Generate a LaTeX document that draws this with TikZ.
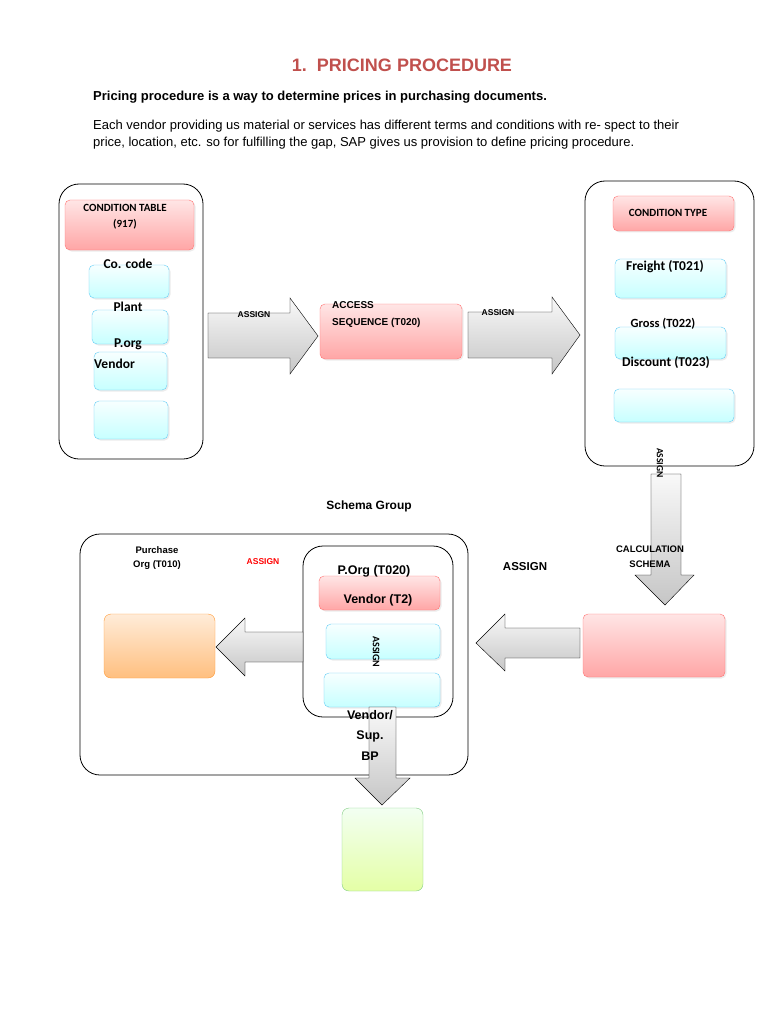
\documentclass[tikz,border=0pt]{standalone}
\usepackage{fontspec}
\setmainfont{Liberation Sans}
\newfontfamily\lbl{Carlito}
\usetikzlibrary{shadows}
\definecolor{titlered}{RGB}{192,80,77}
\begin{document}
\begin{tikzpicture}[x=1pt,y=-1pt]
    \tikzset{
      panel/.style={draw, thick, rounded corners=20pt, fill=white},
      pinkbox/.style={draw=red!55, rectangle, rounded corners=5pt, top color=red!10, bottom color=red!35, drop shadow={opacity=.15,shadow xshift=1.5pt,shadow yshift=-1.5pt}},
      bluebox/.style={draw=cyan!60, rectangle, rounded corners=5pt, top color=cyan!3, bottom color=cyan!22, drop shadow={opacity=.15,shadow xshift=1.5pt,shadow yshift=-1.5pt}},
      orangebox/.style={draw=orange!80, rectangle, rounded corners=7pt, top color=orange!15, bottom color=orange!50},
      greenbox/.style={draw=green!60!black!50, rectangle, rounded corners=7pt, top color=green!5, bottom color=green!30!yellow!35},
      blockarrow/.style={draw, thin, top color=gray!5, bottom color=gray!45},
      lab/.style={font=\lbl\bfseries\fontsize{13.5}{15}\selectfont, inner sep=0pt},
      small/.style={font=\bfseries\fontsize{9.5}{11}\selectfont, inner sep=0pt, align=center}
    }
    \useasboundingbox (0,0) rectangle (768,1024);
    % heading and text
    \node[font=\bfseries\fontsize{18}{20}\selectfont, text=titlered] (title) at (402,65) {1.\ \ PRICING PROCEDURE};
    \node[anchor=west, font=\bfseries\fontsize{13}{15}\selectfont, inner sep=0pt] (intro) at (93,97) {Pricing procedure is a way to determine prices in purchasing documents.};
    \node[anchor=north west, align=left, font=\fontsize{13}{16.5}\selectfont, inner sep=0pt] (para) at (93,120) {Each vendor providing us material or services has different terms and conditions with re- spect to their\\price, location, etc. so for fulfilling the gap, SAP gives us provision to define pricing procedure.};

    % condition table panel
    \node[panel, minimum width=144, minimum height=275] (tabpanel) at (131,321.5) {};
    \node[pinkbox, minimum width=129, minimum height=50] (condtab) at (129.5,225) {};
    \node[bluebox, minimum width=80, minimum height=33] (tab1) at (129,281.5) {};
    \node[bluebox, minimum width=76, minimum height=34] (tab2) at (130,327) {};
    \node[bluebox, minimum width=73, minimum height=38] (tab3) at (130.5,371) {};
    \node[bluebox, minimum width=74, minimum height=38] (tab4) at (131,420) {};
    \node[lab, align=center, font=\lbl\bfseries\fontsize{11}{16}\selectfont] (condtabtxt) at (125,217) {CONDITION TABLE\\(917)};
    \node[lab] (cocode) at (128,264) {Co. code};
    \node[lab] (plant) at (128,307) {Plant};
    \node[lab] (porg) at (128,344) {P.org};
    \node[lab, anchor=west] (vendor) at (94,364) {Vendor};

    % access sequence
    \draw[blockarrow] (208,313) -- (290,313) -- (290,298) -- (318,336) -- (290,374) -- (290,358) -- (208,358) -- cycle;
    \node[small, font=\bfseries\fontsize{8.5}{9}\selectfont] (assign1) at (254,315) {ASSIGN};
    \node[pinkbox, minimum width=142, minimum height=55] (access) at (391,331.5) {};
    \node[small, align=left, anchor=north west, font=\bfseries\fontsize{10}{17}\selectfont] (accesstxt) at (332,301) {ACCESS\\SEQUENCE (T020)};
    \draw[blockarrow] (468,312) -- (552,312) -- (552,297) -- (580,335) -- (552,374) -- (552,358) -- (468,358) -- cycle;
    \node[small, font=\bfseries\fontsize{8.5}{9}\selectfont] (assign2) at (498,313) {ASSIGN};

    % condition type panel
    \node[panel, minimum width=169, minimum height=285] (typepanel) at (669.5,323.5) {};
    \node[pinkbox, minimum width=121, minimum height=35] (condtype) at (673.5,213.5) {};
    \node[bluebox, minimum width=111, minimum height=39] (freight) at (670.5,278.5) {};
    \node[bluebox, minimum width=111, minimum height=32] (gross) at (670.5,343) {};
    \node[bluebox, minimum width=120, minimum height=33] (discount) at (674,405.5) {};
    \node[lab, font=\lbl\bfseries\fontsize{11}{12}\selectfont] (condtypetxt) at (668,213) {CONDITION TYPE};
    \node[lab] (freighttxt) at (665,267) {Freight (T021)};
    \node[lab, font=\lbl\bfseries\fontsize{12.5}{14}\selectfont] (grosstxt) at (663,324) {Gross (T022)};
    \node[lab] (discounttxt) at (666,363) {Discount (T023)};

    % calculation schema
    \draw[blockarrow] (651,474) -- (681,474) -- (681,575) -- (694,575) -- (665,605) -- (635,575) -- (651,575) -- cycle;
    \node[small, rotate=-90, font=\lbl\bfseries\fontsize{9.5}{10}\selectfont] (assign3) at (660,463) {ASSIGN};
    \node[small, font=\bfseries\fontsize{9.5}{15}\selectfont] (calctxt) at (650,557) {CALCULATION\\SCHEMA};
    \node[pinkbox, minimum width=142, minimum height=63] (calc) at (654,645.5) {};
    \node[font=\bfseries\fontsize{11.5}{13}\selectfont] (assign4) at (525,567) {ASSIGN};
    \node[font=\bfseries\fontsize{12}{14}\selectfont] (schema) at (369,506) {Schema Group};
    \draw[blockarrow] (580,628) -- (505,628) -- (505,614) -- (476,643) -- (505,671) -- (505,658) -- (580,658) -- cycle;

    % schema group panel
    \node[panel, minimum width=388, minimum height=241] (grppanel) at (274,654.5) {};
    \node[panel, minimum width=150, minimum height=171] (innerpanel) at (378,631.5) {};
    \node[small] (purchtxt) at (157,558.5) {Purchase\\[3pt]Org (T010)};
    \node[small, text=red, font=\bfseries\fontsize{8.5}{9}\selectfont] (assign5) at (263,562) {ASSIGN};
    \node[pinkbox, minimum width=121, minimum height=34] (vendt2) at (379.5,593) {};
    \node[bluebox, minimum width=114, minimum height=35] (grp1) at (383,641.5) {};
    \node[bluebox, minimum width=116, minimum height=34] (grp2) at (382,690) {};
    \node[font=\bfseries\fontsize{12.5}{14}\selectfont] (porgtxt) at (374,571) {P.Org (T020)};
    \node[font=\bfseries\fontsize{12.5}{14}\selectfont] (vendt2txt) at (378,600) {Vendor (T2)};
    \node[small, rotate=-90, font=\lbl\bfseries\fontsize{10}{10}\selectfont] (assign6) at (376,652) {ASSIGN};
    \draw[blockarrow] (303,632) -- (245,632) -- (245,618) -- (216,647) -- (245,676) -- (245,662) -- (303,662) -- cycle;
    \node[orangebox, minimum width=111, minimum height=64] (purch) at (159.5,646) {};

    % vendor
    \draw[blockarrow] (369,707) -- (396,707) -- (396,778) -- (410,778) -- (382,805) -- (355,778) -- (369,778) -- cycle;
    \node[font=\bfseries\fontsize{12.5}{20.5}\selectfont, align=center] (vendtxt) at (370,735) {Vendor/\\Sup.\\BP};
    \node[greenbox, minimum width=81, minimum height=83] (bp) at (382.5,849.5) {};
\end{tikzpicture}
\end{document}
